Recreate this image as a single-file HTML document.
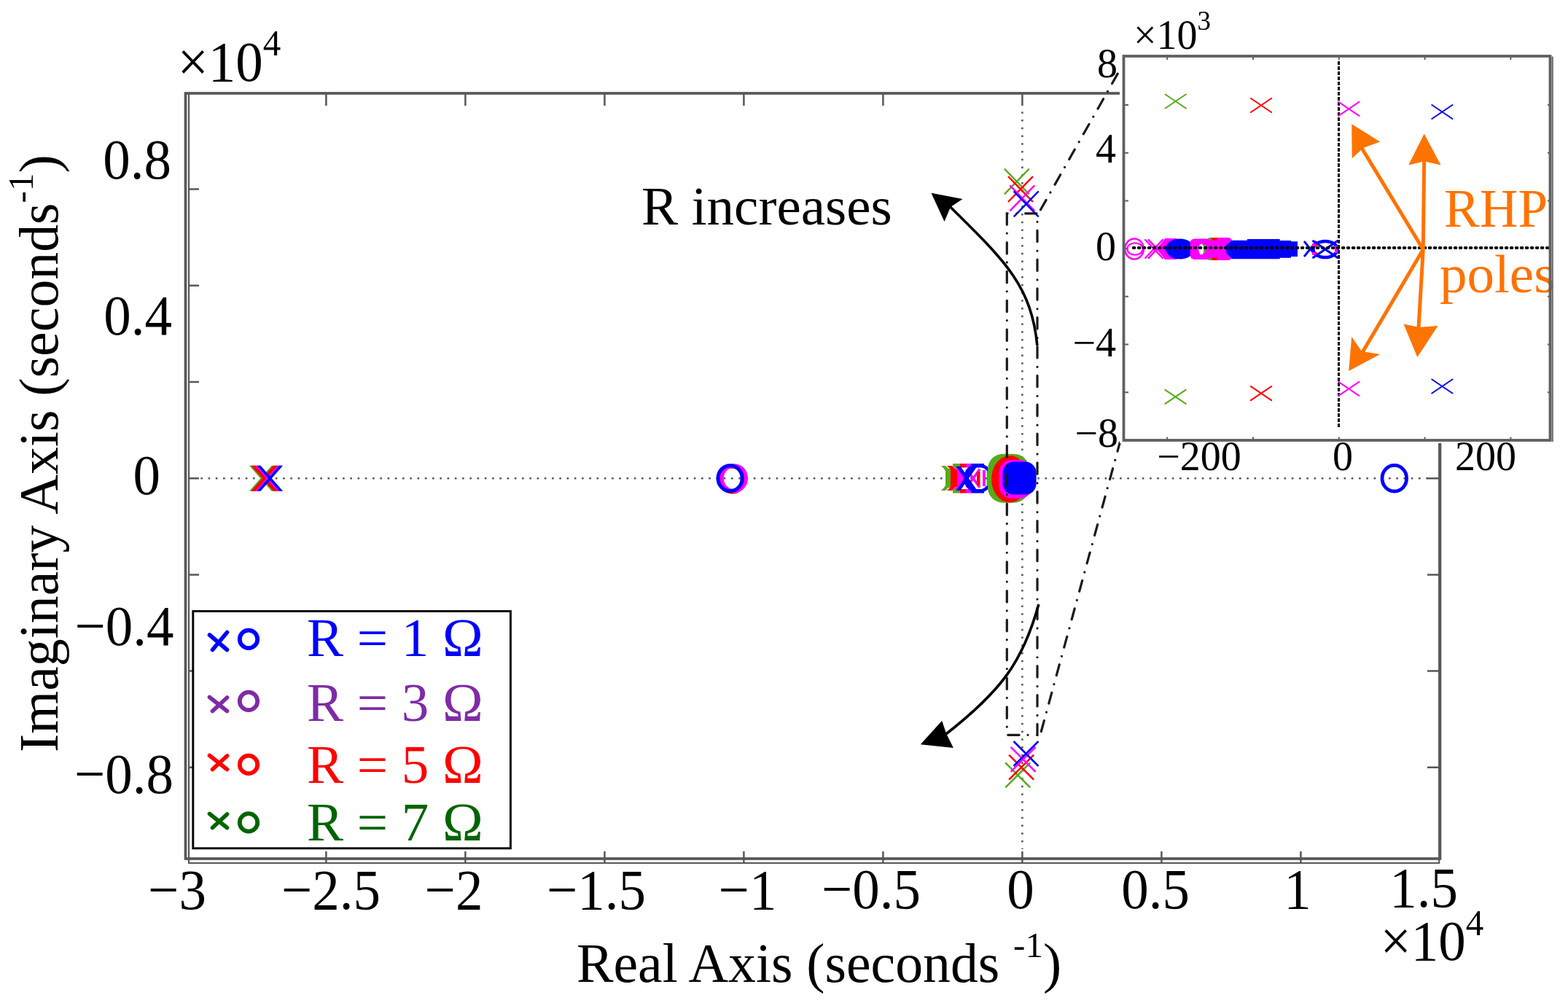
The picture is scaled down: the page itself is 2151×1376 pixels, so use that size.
<!DOCTYPE html><html><head><meta charset="utf-8"><title>Pole-zero map</title><style>
html,body{margin:0;padding:0;background:#fff;overflow:hidden}
svg{display:block} text{font-family:'Liberation Serif','Times New Roman',serif}
</style></head><body>
<svg width="2151" height="1376" viewBox="0 0 2151 1376">
<rect width="2151" height="1376" fill="#fff"/>
<line x1="275.3" y1="656.2" x2="1960" y2="656.2" stroke="#575757" stroke-width="2.6" stroke-dasharray="2.6 7.65"/>
<line x1="1402.4" y1="153.25" x2="1402.4" y2="1165" stroke="#575757" stroke-width="2.6" stroke-dasharray="2.6 8.15"/>
<polygon points="342.0,638.8 347.0,638.8 377.6,673.8 372.6,673.8" fill="#56AB19"/><polygon points="377.6,638.8 372.6,638.8 342.0,673.8 347.0,673.8" fill="#56AB19"/>
<polygon points="344.5,638.8 349.5,638.8 380.1,673.8 375.1,673.8" fill="#FF0000"/><polygon points="380.1,638.8 375.1,638.8 344.5,673.8 349.5,673.8" fill="#FF0000"/>
<polygon points="347.0,638.8 352.0,638.8 382.6,673.8 377.6,673.8" fill="#FF0000"/><polygon points="382.6,638.8 377.6,638.8 347.0,673.8 352.0,673.8" fill="#FF0000"/>
<polygon points="350.0,638.8 355.0,638.8 385.6,673.8 380.6,673.8" fill="#FF00FF"/><polygon points="385.6,638.8 380.6,638.8 350.0,673.8 355.0,673.8" fill="#FF00FF"/>
<polygon points="352.5,638.8 357.5,638.8 388.1,673.8 383.1,673.8" fill="#0000FF"/><polygon points="388.1,638.8 383.1,638.8 352.5,673.8 357.5,673.8" fill="#0000FF"/>
<ellipse cx="1004.0" cy="657.5" rx="16.6" ry="17.5" stroke="#56AB19" stroke-width="5" fill="none"/>
<ellipse cx="1004.5" cy="657.5" rx="16.6" ry="17.5" stroke="#FF0000" stroke-width="5" fill="none"/>
<ellipse cx="1006.9" cy="656.2" rx="16.6" ry="17.5" stroke="#FF00FF" stroke-width="5" fill="none"/>
<ellipse cx="1001.6" cy="656.2" rx="16.6" ry="17.5" stroke="#0000FF" stroke-width="5" fill="none"/>
<path d="M1291 639h6l4 4v26l-4 4h-6l4-4 2-3v-20l-2-3z" fill="#56AB19"/>
<rect x="1297" y="643" width="8" height="26" fill="#56AB19"/>
<path d="M1299 639h7l5 5v24l-5 5h-7l5-5v-24z" fill="#FF0000"/>
<rect x="1304" y="644" width="10" height="24" fill="#FF0000"/>
<path d="M1307 640h7l6 5v22l-6 5h-7l6-5v-22z" fill="#FF00FF"/>
<rect x="1313" y="645" width="9" height="22" fill="#FF00FF"/>
<rect x="1307" y="636" width="10" height="5.5" fill="#56AB19"/>
<rect x="1317" y="636" width="8" height="5.5" fill="#FF0000"/>
<rect x="1325" y="636" width="7" height="5.5" fill="#FF00FF"/>
<rect x="1332" y="636" width="18" height="5.5" fill="#0000FF"/>
<rect x="1307" y="671" width="10" height="5.5" fill="#56AB19"/>
<rect x="1317" y="671" width="8" height="5.5" fill="#FF0000"/>
<rect x="1325" y="671" width="7" height="5.5" fill="#FF00FF"/>
<rect x="1332" y="671" width="18" height="5.5" fill="#0000FF"/>
<path d="M1326.0 643.8L1344.0 668.8M1344.0 643.8L1326.0 668.8" stroke="#FF00FF" stroke-width="3.5" fill="none"/>
<polygon points="1311.5,639.8 1317.5,639.8 1340.5,672.8 1334.5,672.8" fill="#0000FF"/><polygon points="1340.5,639.8 1334.5,639.8 1311.5,672.8 1317.5,672.8" fill="#0000FF"/>
<ellipse cx="1342.0" cy="656.0" rx="17.8" ry="17.8" stroke="#0000FF" stroke-width="4.6" fill="none"/>
<rect x="1340" y="647" width="4.5" height="19" fill="#FF0000"/>
<rect x="1348" y="645" width="4" height="22" fill="#FF00FF"/>
<rect x="1353.5" y="647" width="2" height="19" fill="#56AB19"/>
<rect x="1354.9" y="622.7" width="57" height="67" rx="21" fill="#56AB19"/>
<ellipse cx="1385.2" cy="657.2" rx="25.1" ry="32.2" fill="#FF0000"/>
<rect x="1370.3" y="630.8" width="46.3" height="53.1" rx="18" fill="#FF00FF"/>
<rect x="1375.6" y="633.5" width="46" height="45.1" rx="15" fill="#0000FF"/>
<path d="M1377.8 231.5L1411.8 266.5M1411.8 231.5L1377.8 266.5" stroke="#56AB19" stroke-width="2.5" fill="none"/>
<path d="M1383.0 242.0L1417.0 277.0M1417.0 242.0L1383.0 277.0" stroke="#FF0000" stroke-width="2.5" fill="none"/>
<path d="M1385.3 254.3L1419.3 289.3M1419.3 254.3L1385.3 289.3" stroke="#FF00FF" stroke-width="2.5" fill="none"/>
<path d="M1390.7 262.4L1424.7 297.4M1424.7 262.4L1390.7 297.4" stroke="#0000FF" stroke-width="2.5" fill="none"/>
<path d="M1379.2 1046.4L1413.2 1080.4M1413.2 1046.4L1379.2 1080.4" stroke="#56AB19" stroke-width="2.5" fill="none"/>
<path d="M1384.1 1035.6L1418.1 1069.6M1418.1 1035.6L1384.1 1069.6" stroke="#FF0000" stroke-width="2.5" fill="none"/>
<path d="M1386.6 1024.8L1420.6 1058.8M1420.6 1024.8L1386.6 1058.8" stroke="#FF00FF" stroke-width="2.5" fill="none"/>
<path d="M1390.5 1017.0L1424.5 1051.0M1424.5 1017.0L1390.5 1051.0" stroke="#0000FF" stroke-width="2.5" fill="none"/>
<ellipse cx="1912.8" cy="656.2" rx="16.8" ry="17.8" stroke="#0000FF" stroke-width="4.8" fill="none"/>
<rect x="254.5" y="128" width="1721" height="1050" fill="none" stroke="#575757" stroke-width="3.7"/>
<path d="M259 128V1184H1974.2V128" fill="none" stroke="#575757" stroke-width="2.2"/>
<path d="M259 259.6H273M1974 259.6H1958M259 391.8H273M1974 391.8H1958M259 524.0H273M1974 524.0H1958M259 656.2H273M1974 656.2H1958M259 788.4H273M1974 788.4H1958M259 920.6H273M1974 920.6H1958M259 1052.8H273M1974 1052.8H1958M447.4 129V145M447.4 1184V1168M638.4 129V145M638.4 1184V1168M829.4 129V145M829.4 1184V1168M1020.4 129V145M1020.4 1184V1168M1211.4 129V145M1211.4 1184V1168M1402.4 129V145M1402.4 1184V1168M1593.4 129V145M1593.4 1184V1168M1784.4 129V145M1784.4 1184V1168" stroke="#575757" stroke-width="2.5" fill="none"/>
<rect x="264.8" y="838.5" width="435.6" height="325.3" fill="#fff" stroke="#000" stroke-width="2.9"/>
<path d="M287.5 871L311.5 891.5M311.5 867.5L291.5 891.5" stroke="#0000FF" stroke-width="5.6" stroke-linecap="round" fill="none"/>
<circle cx="341.0" cy="876.9" r="12.2" stroke="#0000FF" stroke-width="5.8" fill="none"/>
<text x="421" y="899.6" font-size="75" fill="#0000FF" text-anchor="start" >R = 1 Ω</text>
<path d="M287.5 956.5L311.5 975.5M311.5 957.0L291.5 975.5" stroke="#7F2BA5" stroke-width="5.6" stroke-linecap="round" fill="none"/>
<circle cx="341.0" cy="961.9" r="12.2" stroke="#7F2BA5" stroke-width="5.8" fill="none"/>
<text x="421" y="988.7" font-size="75" fill="#7F2BA5" text-anchor="start" >R = 3 Ω</text>
<path d="M287.5 1036.5L311.5 1055.5M311.5 1037.0L291.5 1055.5" stroke="#FF0000" stroke-width="5.6" stroke-linecap="round" fill="none"/>
<circle cx="341.0" cy="1048.9" r="12.2" stroke="#FF0000" stroke-width="5.8" fill="none"/>
<text x="421" y="1073.7" font-size="75" fill="#FF0000" text-anchor="start" >R = 5 Ω</text>
<path d="M287.5 1116.5L311.5 1135.5M311.5 1117.0L291.5 1135.5" stroke="#006400" stroke-width="5.6" stroke-linecap="round" fill="none"/>
<circle cx="341.0" cy="1128.4" r="12.2" stroke="#006400" stroke-width="5.8" fill="none"/>
<text x="421" y="1153.4" font-size="75" fill="#006400" text-anchor="start" >R = 7 Ω</text>
<text x="880" y="308" font-size="75" fill="#000" text-anchor="start" >R increases</text>
<path d="M1381.3 292.8V1008.3H1423V292.8Z" stroke="#1a1a1a" stroke-width="3.2" fill="none" stroke-linecap="round" stroke-dasharray="15.4 11.9 0.01 12.52"/>
<path d="M1424.5 293L1540.2 88.8" stroke="#1a1a1a" stroke-width="3.2" fill="none" stroke-linecap="round" stroke-dasharray="15.4 11.9 0.01 12.52" stroke-dashoffset="-6"/>
<path d="M1427 1008.3L1536.3 607" stroke="#1a1a1a" stroke-width="3.2" fill="none" stroke-linecap="round" stroke-dasharray="15.4 11.9 0.01 12.52" stroke-dashoffset="-5"/>
<path d="M1422.9 474C1414.8 390.7 1377.2 356.7 1302 282.3" stroke="#000" stroke-width="3.6" fill="none"/>
<polygon points="1277.5,264.8 1320.5,273 1304,284 1295.5,304" fill="#000"/>
<path d="M1424.9 829C1403.1 907.6 1374.1 947.7 1296 1008.5" stroke="#000" stroke-width="3.6" fill="none"/>
<polygon points="1262.8,1021.2 1292.2,988.8 1298,1006 1307.9,1026.1" fill="#000"/>
<rect x="1536" y="70" width="596" height="538" fill="#fff"/>
<path d="M1601.2 78V82M1601.2 603V599.5M1719.0 78V82M1719.0 603V599.5M1836.8 78V82M1836.8 603V599.5M1954.6 78V82M1954.6 603V599.5M2072.4 78V82M2072.4 603V599.5M1542 144.0H1548M2126 144.0H2123M1542 209.7H1548M2126 209.7H2123M1542 275.4H1548M2126 275.4H2123M1542 341.1H1548M2126 341.1H2123M1542 406.8H1548M2126 406.8H2123M1542 472.5H1548M2126 472.5H2123M1542 538.2H1548M2126 538.2H2123" stroke="#606060" stroke-width="2" fill="none"/>
<line x1="1836.5" y1="84" x2="1836.5" y2="586" stroke="#000" stroke-width="3" stroke-dasharray="5 2"/>
<ellipse cx="1556.0" cy="341.5" rx="12.8" ry="14.0" stroke="#FF00FF" stroke-width="2.6" fill="none"/>
<ellipse cx="1557.0" cy="341.5" rx="10.6" ry="8.2" stroke="#FF00FF" stroke-width="2.3" fill="none"/>
<path d="M1570.5 328.3L1595.5 354.7M1595.5 328.3L1570.5 354.7" stroke="#FF00FF" stroke-width="2.4" fill="none"/>
<path d="M1575.0 328.3L1600.0 354.7M1600.0 328.3L1575.0 354.7" stroke="#FF00FF" stroke-width="2.4" fill="none"/>
<path d="M1588 341.5L1598 327H1614V356H1598Z" fill="#FF00FF"/>
<ellipse cx="1618.5" cy="341.5" rx="19.5" ry="14" fill="#0000FF"/>
<rect x="1632.6" y="327.6" width="58" height="28.4" rx="6" fill="#FF00FF"/>
<rect x="1656" y="326" width="34" height="31" rx="5" fill="#FF00FF"/>
<ellipse cx="1648" cy="342" rx="3.6" ry="7.5" fill="#fff"/>
<rect x="1651" y="336" width="3" height="11" fill="#56AB19"/>
<rect x="1658" y="326" width="4" height="3" fill="#56AB19"/><rect x="1662" y="326" width="8" height="3.5" fill="#FF0000"/>
<rect x="1658" y="354" width="4" height="3" fill="#56AB19"/><rect x="1662" y="353.5" width="8" height="3.5" fill="#FF0000"/>
<path d="M1682 336L1690 329.7H1711V327.9H1755.7V329.9H1771V331.2H1780V352H1771V353.7H1755.7V355.3H1690L1682 347Z" fill="#0000FF"/>
<path d="M1789.0 331.0L1806.0 352.0M1806.0 331.0L1789.0 352.0" stroke="#0000FF" stroke-width="2.8" fill="none"/>
<ellipse cx="1818" cy="342" rx="16.5" ry="11" stroke="#0000FF" stroke-width="4.5" fill="none"/>
<path d="M1800.5 330.0L1835.5 354.0M1835.5 330.0L1800.5 354.0" stroke="#0000FF" stroke-width="3.2" fill="none"/>
<rect x="1800" y="334" width="5" height="4" fill="#FF00FF"/><rect x="1800" y="346" width="5" height="4" fill="#FF00FF"/>
<rect x="1805" y="335" width="2" height="3" fill="#FF0000"/><rect x="1805" y="346" width="2" height="3" fill="#FF0000"/>
<rect x="1831" y="337" width="4" height="10" fill="#FF00FF"/>
<line x1="1554.8" y1="340" x2="2126" y2="340" stroke="#000" stroke-width="4" stroke-dasharray="1.6 5.4" stroke-linecap="round"/>
<path d="M1597.9 129.0L1627.5 149.0M1627.5 129.0L1597.9 149.0" stroke="#56AB19" stroke-width="2.0" fill="none"/>
<path d="M1715.2 134.5L1744.8 154.5M1744.8 134.5L1715.2 154.5" stroke="#FF0000" stroke-width="2.0" fill="none"/>
<path d="M1835.5 139.3L1865.1 159.3M1865.1 139.3L1835.5 159.3" stroke="#FF00FF" stroke-width="2.0" fill="none"/>
<path d="M1963.6 143.5L1993.2 163.5M1993.2 143.5L1963.6 163.5" stroke="#0000FF" stroke-width="2.0" fill="none"/>
<path d="M1597.7 534.4L1627.3 554.4M1627.3 534.4L1597.7 554.4" stroke="#56AB19" stroke-width="2.0" fill="none"/>
<path d="M1715.2 529.6L1744.8 549.6M1744.8 529.6L1715.2 549.6" stroke="#FF0000" stroke-width="2.0" fill="none"/>
<path d="M1835.5 523.3L1865.1 543.3M1865.1 523.3L1835.5 543.3" stroke="#FF00FF" stroke-width="2.0" fill="none"/>
<path d="M1963.6 520.0L1993.2 540.0M1993.2 520.0L1963.6 540.0" stroke="#0000FF" stroke-width="2.0" fill="none"/>
<path d="M1952.3 342.3L1868 203M1952.3 342.3L1953.7 220M1952.3 342.3L1868 485M1952.3 342.3L1946 450" stroke="#FF7300" stroke-width="5" fill="none"/>
<polygon points="1854.2,170.2 1893.2,194.4 1870,203 1854.7,217.2" fill="#FF7300"/>
<polygon points="1953.7,183.6 1932.2,226.6 1953.7,221.3 1976.5,226.6" fill="#FF7300"/>
<polygon points="1850.2,509.0 1854.2,461.9 1868,482 1893.2,486.1" fill="#FF7300"/>
<polygon points="1944.3,490.1 1925.5,444.4 1947,449 1972.5,447.1" fill="#FF7300"/>
<text x="1981" y="311" font-size="73" fill="#FF7300" text-anchor="start" >RHP</text>
<text x="1975" y="401" font-size="75" fill="#FF7300" text-anchor="start" >poles</text>
<rect x="1541.5" y="77" width="585" height="527" fill="none" stroke="#606060" stroke-width="3.8"/>
<line x1="2129.7" y1="77.4" x2="2129.7" y2="606" stroke="#6a6a6a" stroke-width="2.2"/>
<text x="1533" y="106" font-size="56" fill="#000" text-anchor="end" >8</text>
<text x="1531" y="223" font-size="56" fill="#000" text-anchor="end" >4</text>
<text x="1531" y="357" font-size="56" fill="#000" text-anchor="end" >0</text>
<text x="1531" y="489" font-size="56" fill="#000" text-anchor="end" >−4</text>
<text x="1534" y="613" font-size="56" fill="#000" text-anchor="end" >−8</text>
<text x="1645" y="645" font-size="56" fill="#000" text-anchor="middle" >−200</text>
<text x="1842" y="645" font-size="56" fill="#000" text-anchor="middle" >0</text>
<text x="2038" y="645" font-size="56" fill="#000" text-anchor="middle" >200</text>
<text x="1555" y="67" font-size="56" fill="#000" text-anchor="start" >×10<tspan font-size="37" dy="-26">3</tspan></text>
<text transform="translate(235 245.4) scale(1 1.045)" font-size="75" fill="#000" text-anchor="end">0.8</text>
<text transform="translate(236 459) scale(1 1.045)" font-size="75" fill="#000" text-anchor="end">0.4</text>
<text transform="translate(220 677.5) scale(1 1.045)" font-size="75" fill="#000" text-anchor="end">0</text>
<text transform="translate(238.5 885) scale(1 1.045)" font-size="75" fill="#000" text-anchor="end">−0.4</text>
<text transform="translate(238 1088) scale(1 1.045)" font-size="75" fill="#000" text-anchor="end">−0.8</text>
<text transform="translate(243 1246.5) scale(1 1.045)" font-size="75" fill="#000" text-anchor="middle">−3</text>
<text transform="translate(454 1246.5) scale(1 1.045)" font-size="75" fill="#000" text-anchor="middle">−2.5</text>
<text transform="translate(622.5 1246.5) scale(1 1.045)" font-size="75" fill="#000" text-anchor="middle">−2</text>
<text transform="translate(818 1246.5) scale(1 1.045)" font-size="75" fill="#000" text-anchor="middle">−1.5</text>
<text transform="translate(1025.5 1246.5) scale(1 1.045)" font-size="75" fill="#000" text-anchor="middle">−1</text>
<text transform="translate(1195 1246) scale(1 1.045)" font-size="75" fill="#000" text-anchor="middle">−0.5</text>
<text transform="translate(1400 1246) scale(1 1.045)" font-size="75" fill="#000" text-anchor="middle">0</text>
<text transform="translate(1585 1246) scale(1 1.045)" font-size="75" fill="#000" text-anchor="middle">0.5</text>
<text transform="translate(1780 1245.5) scale(1 1.045)" font-size="75" fill="#000" text-anchor="middle">1</text>
<text transform="translate(1953 1244) scale(1 1.045)" font-size="75" fill="#000" text-anchor="middle">1.5</text>
<text transform="translate(243.5 110.6) scale(1 1.035)" font-size="75" fill="#000">×10<tspan font-size="49" dy="-33">4</tspan></text>
<text transform="translate(1893.5 1317) scale(1 1.035)" font-size="75" fill="#000">×10<tspan font-size="49" dy="-33">4</tspan></text>
<text x="791" y="1347" font-size="75.7" fill="#000" text-anchor="start" >Real Axis (seconds <tspan font-size="49" dy="-34">-1</tspan><tspan dy="34">)</tspan></text>
<text transform="translate(79 1032) rotate(-90)" font-size="75.8" fill="#000">Imaginary Axis (seconds<tspan font-size="49" dy="-34.5">-1</tspan><tspan dy="34.5">)</tspan></text>
</svg></body></html>
